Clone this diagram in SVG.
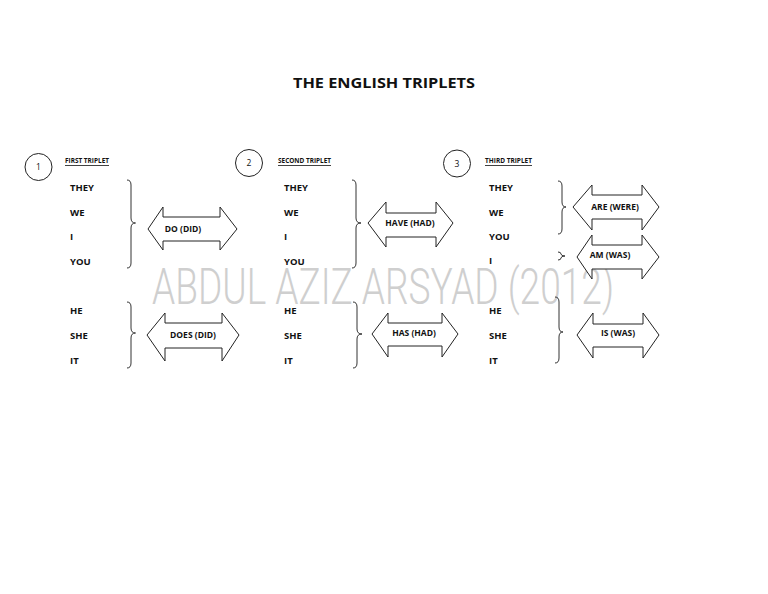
<svg xmlns="http://www.w3.org/2000/svg" width="768" height="594" viewBox="0 0 768 594">
<style>
.t{font-family:"Open Sans","Liberation Sans",sans-serif;font-weight:bold;fill:#111}
.p{font-size:9.5px}
.a{font-size:8.5px;text-anchor:middle}
.h{font-size:6.5px}
.n{font-size:8.5px;text-anchor:middle;font-weight:normal}
.br{fill:none;stroke:#333;stroke-width:1}
.ar{fill:#fff;stroke:#222;stroke-width:1}
.c{fill:#fff;stroke:#222;stroke-width:1}
.u{stroke:#111;stroke-width:0.8}
.wm{font-family:Roboto,"Liberation Sans",sans-serif;font-weight:300;font-size:50px;fill:#cfcfcf}
</style>
<rect width="768" height="594" fill="#fff"/>
<text class="t" x="384" y="88" font-size="15" text-anchor="middle" textLength="182" lengthAdjust="spacingAndGlyphs">THE ENGLISH TRIPLETS</text>
<g id="watermark"><text class="wm" x="152" y="304" textLength="462" lengthAdjust="spacingAndGlyphs">ABDUL AZIZ ARSYAD (2012)</text></g>
<g id="triplet1">
<circle class="c" cx="38.5" cy="167" r="13.5"/><text class="t n" x="38.5" y="170">1</text>
<text class="t h" x="65" y="163" textLength="44" lengthAdjust="spacingAndGlyphs">FIRST TRIPLET</text><line class="u" x1="65" y1="165.5" x2="109" y2="165.5"/>
</g>
<g id="triplet2">
<circle class="c" cx="249" cy="163" r="13.5"/><text class="t n" x="249" y="166">2</text>
<text class="t h" x="278" y="163" textLength="53" lengthAdjust="spacingAndGlyphs">SECOND TRIPLET</text><line class="u" x1="278" y1="165.5" x2="331" y2="165.5"/>
</g>
<g id="triplet3">
<circle class="c" cx="457" cy="163.5" r="13.5"/><text class="t n" x="457" y="166.5">3</text>
<text class="t h" x="485" y="163" textLength="47" lengthAdjust="spacingAndGlyphs">THIRD TRIPLET</text><line class="u" x1="485" y1="165.5" x2="532" y2="165.5"/>
</g>
<g id="pronouns1" class="t p">
<text x="70" y="191">THEY</text><text x="70" y="215.5">WE</text><text x="70" y="240">I</text><text x="70" y="264.5">YOU</text>
<text x="70" y="314">HE</text><text x="70" y="338.5">SHE</text><text x="70" y="363.5">IT</text>
</g>
<g id="pronouns2" class="t p">
<text x="284" y="191">THEY</text><text x="284" y="215.5">WE</text><text x="284" y="240">I</text><text x="284" y="264.5">YOU</text>
<text x="284" y="314">HE</text><text x="284" y="338.5">SHE</text><text x="284" y="363.5">IT</text>
</g>
<g id="pronouns3" class="t p">
<text x="489" y="191">THEY</text><text x="489" y="215.5">WE</text><text x="489" y="240">YOU</text><text x="489" y="264">I</text>
<text x="489" y="314">HE</text><text x="489" y="338.5">SHE</text><text x="489" y="363.5">IT</text>
</g>
<g id="connectors">
<path class="br" d="M127,180 Q131,180 131,185 L131,218 Q131,223 135.5,223 Q131,223 131,228 L131,263 Q131,268 127,268"/>
<path class="br" d="M127,302 Q131,302 131,307 L131,328 Q131,333 135.5,333 Q131,333 131,338 L131,363 Q131,368 127,368"/>
<path class="br" d="M352,180 Q356,180 356,185 L356,218 Q356,223 361,223 Q356,223 356,228 L356,263 Q356,268 352,268"/>
<path class="br" d="M353,302 Q357,302 357,307 L357,329 Q357,334 362,334 Q357,334 357,339 L357,363 Q357,368 353,368"/>
<path class="br" d="M558,181 Q562,181 562,186 L562,202 Q562,207 566,207 Q562,207 562,212 L562,229 Q562,234 558,234"/>
<path class="br" d="M558,252 Q561,252 561,254 Q561,256 565,256 Q561,256 561,258 Q561,260 558,260"/>
<path class="br" d="M555,297 Q559,297 559,302 L559,327 Q559,332 563,332 Q559,332 559,337 L559,358 Q559,363 555,363"/>
</g>
<g id="do">
<path class="ar" d="M148,229 L163,207 L163,217 L220,217 L220,207 L237,229 L220,250 L220,241 L163,241 L163,250 Z"/>
<text class="t a" x="183" y="231.5">DO (DID)</text>
</g>
<g id="have">
<path class="ar" d="M368,223 L386,202 L386,213 L436,213 L436,202 L453,223 L436,247 L436,237 L386,237 L386,247 Z"/>
<text class="t a" x="410" y="226">HAVE (HAD)</text>
</g>
<g id="are">
<path class="ar" d="M573,207 L592,185 L592,195 L642,195 L642,185 L659,207 L642,230 L642,219 L592,219 L592,230 Z"/>
<text class="t a" x="615" y="210">ARE (WERE)</text>
</g>
<g id="am">
<path class="ar" d="M577,257 L592,235 L592,245 L642,245 L642,235 L659,257 L642,279 L642,269 L592,269 L592,279 Z"/>
<text class="t a" x="610" y="258">AM (WAS)</text>
</g>
<g id="does">
<path class="ar" d="M147,335 L165,313 L165,323 L222,323 L222,313 L239,335 L222,361 L222,348 L165,348 L165,361 Z"/>
<text class="t a" x="193" y="338">DOES (DID)</text>
</g>
<g id="has">
<path class="ar" d="M372,334 L388,313 L388,323 L442,323 L442,313 L458,334 L442,357 L442,346 L388,346 L388,357 Z"/>
<text class="t a" x="414" y="336">HAS (HAD)</text>
</g>
<g id="is">
<path class="ar" d="M577,335 L593,313 L593,324 L643,324 L643,313 L659,335 L643,358 L643,347 L593,347 L593,358 Z"/>
<text class="t a" x="618" y="336">IS (WAS)</text>
</g>
</svg>
